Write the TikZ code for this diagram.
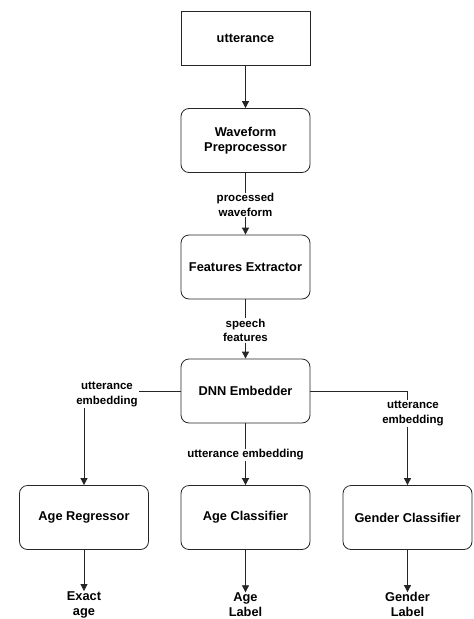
\documentclass[tikz,border=0pt]{standalone}
\usepackage{fontspec}
\setmainfont{Liberation Sans}
\usetikzlibrary{arrows.meta}
\begin{document}
\begin{tikzpicture}[x=1pt,y=-1pt,
  box/.style={draw=black!85, line width=0.8pt, rounded corners=8pt, minimum width=129pt, minimum height=64pt, align=center, font=\bfseries\fontsize{12.8}{15}\selectfont, inner sep=0pt},
  sqbox/.style={box, rounded corners=0pt},
  lbl/.style={fill=white, align=center, font=\bfseries\fontsize{11.5}{14.5}\selectfont, inner sep=1pt},
  outl/.style={align=center, font=\bfseries\fontsize{12.8}{15}\selectfont, inner sep=0pt},
  conn/.style={draw=black!85, line width=0.8pt, -{Triangle[length=7pt,width=7pt]}}]
\useasboundingbox (0,0) rectangle (474,619);
\node[sqbox, minimum height=54pt] (utt) at (245.5,38) {utterance};
\node[box] (wp) at (245.5,140.5) {Waveform\\Preprocessor};
\node[box] (fe) at (245.5,267) {Features Extractor};
\node[box] (dnn) at (245.5,391) {DNN Embedder};
\node[box] (ar) at (84,517.5) {Age Regressor};
\node[box] (ac) at (245.5,517.5) {Age Classifier};
\node[box] (gc) at (407.5,517.5) {Gender Classifier};
\node[outl] (ea) at (84,604.5) {Exact\\age};
\node[outl] (al) at (245.5,604.5) {Age\\Label};
\node[outl] (gl) at (407.5,604.5) {Gender\\Label};
\draw[conn] (utt) -- (wp);
\draw[conn] (wp) -- (fe);
\draw[conn] (fe) -- (dnn);
\draw[conn] (dnn) -- (ac);
\draw[conn] (dnn.west) -| (ar.north);
\draw[conn] (dnn.east) -| (gc.north);
\draw[conn] (ar) -- (ea.north);
\draw[conn] (ac) -- (al.north);
\draw[conn] (gc) -- (gl.north);
\node[lbl] (l1) at (245.5,205) {processed\\waveform};
\node[lbl] (l2) at (245.5,330.5) {speech\\features};
\node[lbl] (l3) at (107,394.5) {utterance\\embedding};
\node[lbl] (l4) at (413,413.5) {utterance\\embedding};
\node[lbl] (l5) at (245.5,455) {utterance embedding};
\end{tikzpicture}
\end{document}
